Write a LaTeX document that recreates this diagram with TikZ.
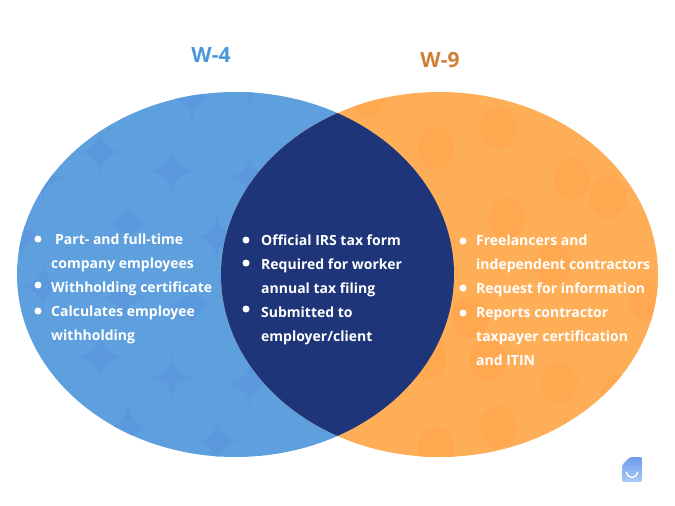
\documentclass[tikz,border=0pt]{standalone}
\usepackage{fontspec}
\setmainfont{Open Sans}
\definecolor{wblue}{HTML}{5E9FDD}
\definecolor{wstar}{HTML}{5B98DE}
\definecolor{worange}{HTML}{FFAE58}
\definecolor{wspot}{HTML}{FFA84F}
\definecolor{wnavy}{HTML}{1E3679}
\definecolor{wfour}{HTML}{4A96DC}
\definecolor{wnine}{HTML}{CF7F33}
\definecolor{wlogotop}{HTML}{6C9BEB}
\definecolor{wlogobot}{HTML}{A9CBF5}
\tikzset{
  sparkle/.pic={\fill[wstar] (-23,0) .. controls (-10,0) and (0,-11) .. (0,-24)
    .. controls (0,-11) and (10,0) .. (23,0)
    .. controls (10,0) and (0,11) .. (0,24)
    .. controls (0,11) and (-10,0) .. (-23,0) -- cycle;},
  title/.style={font=\fontsize{21}{24}\selectfont\bfseries},
  entry/.style={anchor=north west,inner sep=0pt,align=left,text=white,
    font=\fontsize{14}{24}\selectfont\bfseries},
  dot/.style={circle,fill=white,inner sep=0pt,minimum size=7pt}
}
\begin{document}
\begin{tikzpicture}[x=1pt,y=-1pt]
\useasboundingbox (0,0) rectangle (675,506);
% left circle
\fill[wblue] (235.5,274.5) ellipse [x radius=218.5,y radius=182.5];
\begin{scope}
\clip (235.5,274.5) ellipse [x radius=218.5,y radius=182.5];
\foreach \sx/\sy in {192/98,250/83,100/152,172/171,250/177,43/178,128/223,217/237,
  22/237,43/287,123/298,192/305,100/357,172/377,250/384,128/427,217/442}
  \pic at (\sx,\sy) {sparkle};
\end{scope}
% right circle
\fill[worange] (439.5,274.5) ellipse [x radius=218.5,y radius=182.5];
\begin{scope}
\clip (439.5,274.5) ellipse [x radius=218.5,y radius=182.5];
\foreach \sx/\sy in {367/96,436/148,498/128,572/179,608/197,507/218,553/265,
  647/300,470/317,488/360,428/358,559/383,498/427,436/448,620/395}
  \fill[wspot] (\sx,\sy) ellipse [x radius=18.5,y radius=21];
\end{scope}
% overlap
\begin{scope}
\clip (235.5,274.5) ellipse [x radius=218.5,y radius=182.5];
\fill[wnavy] (439.5,274.5) ellipse [x radius=218.5,y radius=182.5];
\end{scope}
\node [title,text=wfour] (wfourtitle) at (211,55) {W-4};
\node [title,text=wnine] (wninetitle) at (440,60) {W-9};
% left list
\node [entry] (la) at (51,234) {\hspace{4pt}Part- and full-time\\company employees};
\node [entry] (lb) at (51,282) {Withholding certificate};
\node [entry] (lc) at (51,306) {Calculates employee\\withholding};
\node [dot] (lda) at (38,239) {};
\node [dot] (ldb) at (38,285) {};
\node [dot] (ldc) at (38,311) {};
% middle list
\node [entry] (ma) at (261,235) {Official IRS tax form};
\node [entry] (mb) at (261,259) {Required for worker\\annual tax filing};
\node [entry] (mc) at (261,307) {Submitted to\\employer/client};
\node [dot] (mda) at (246,240) {};
\node [dot] (mdb) at (246,263) {};
\node [dot] (mdc) at (246,309) {};
% right list
\node [entry] (ra) at (476,235) {Freelancers and\\independent contractors};
\node [entry] (rb) at (476,283) {Request for information};
\node [entry] (rc) at (476,307) {Reports contractor\\taxpayer certification\\and ITIN};
\node [dot] (rda) at (463,241) {};
\node [dot] (rdb) at (463,288) {};
\node [dot] (rdc) at (463,313) {};
% logo
\shade[top color=wlogotop,bottom color=wlogobot,rounded corners=2pt]
  (622,465) -- (630,457) -- (642,457) -- (642,482) -- (622,482) -- cycle;
\draw[white,line width=1.4pt,line cap=round] (626.5,472) .. controls (627.5,479.5) and (636.5,479.5) .. (637.5,472);
\end{tikzpicture}
\end{document}
